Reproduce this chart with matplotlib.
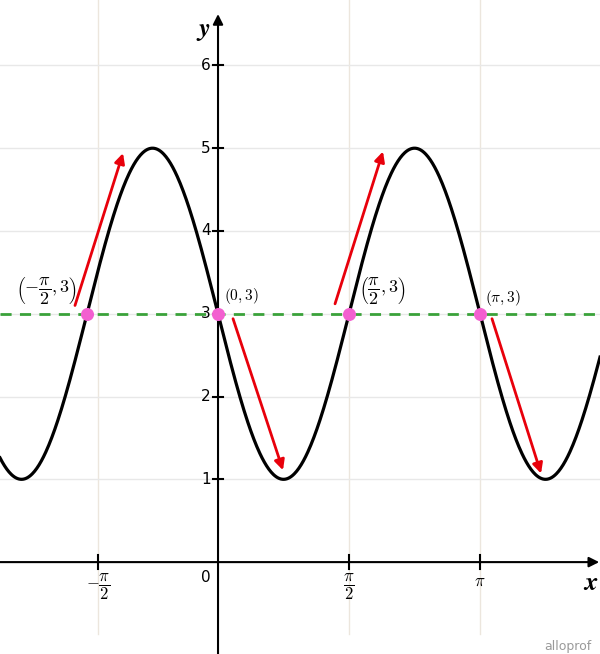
#Sinusoid y = 3 - 2 sin(2x) with tangent direction arrows
import numpy as np
import matplotlib.pyplot as plt

plt.rcParams['mathtext.fontset'] = 'cm'

#Curve parameters and view window
AMP = 2
MID = 3
FREQ = 2
X_MIN, X_MAX = -2.614, 4.58
Y_MIN, Y_MAX = -1.11, 6.79

#Points where the curve crosses the midline
point_x = [-np.pi / 2, 0, np.pi / 2, np.pi]
point_y = [3, 3, 3, 3]
point_labels = [r"$\left(-\dfrac{\pi}{2},3\right)$", r"$(0,3)$",
                r"$\left(\dfrac{\pi}{2},3\right)$", r"$(\pi,3)$"]
label_x = [-2.42, 0.07, 1.69, 3.20]
label_y = [3.28, 3.22, 3.28, 3.19]
label_size = [13, 11, 13, 11]

#Red arrows (start x, start y, end x, end y)
arrow_x0 = [-1.715, 0.18, 1.403, 3.285]
arrow_y0 = [3.10, 2.94, 3.12, 2.94]
arrow_x1 = [-1.139, 0.779, 1.978, 3.873]
arrow_y1 = [4.94, 1.11, 4.96, 1.07]

#Ticks (the -pi/2 tick sits a bit right of the true value in the original)
x_ticks = [-1.44, np.pi / 2, np.pi]
x_tick_labels = [r"$-\dfrac{\pi}{2}$", r"$\dfrac{\pi}{2}$", r"$\pi$"]
y_ticks = [1, 2, 3, 4, 5, 6]

fig = plt.figure(figsize=(6, 6.54), dpi=100)
ax = fig.add_axes([0, 0, 1, 1])
ax.set_xlim(X_MIN, X_MAX)
ax.set_ylim(Y_MIN, Y_MAX)
ax.axis("off")

#Grid
for xt in x_ticks:
    ax.plot([xt, xt], [-0.87, Y_MAX], color="#ece6dd", lw=1, zorder=0)
for yt in y_ticks:
    ax.plot([X_MIN, X_MAX], [yt, yt], color="#e8e8e8", lw=1, zorder=0)

#Axes with arrows
ax.annotate("", xy=(X_MAX - 0.01, 0), xytext=(X_MIN, 0),
            arrowprops=dict(arrowstyle="-|>", color="black", lw=1.5, mutation_scale=15,
                            shrinkA=0, shrinkB=0), zorder=3)
ax.annotate("", xy=(0, Y_MAX - 0.17), xytext=(0, Y_MIN),
            arrowprops=dict(arrowstyle="-|>", color="black", lw=1.5, mutation_scale=15,
                            shrinkA=0, shrinkB=0), zorder=3)

#Tick marks and labels
for xt, lab in zip(x_ticks, x_tick_labels):
    ax.plot([xt, xt], [-0.08, 0.08], color="black", lw=1.5, zorder=3)
    ax.text(xt, -0.12, lab, ha="center", va="top", fontsize=12)
for yt in y_ticks:
    ax.plot([-0.06, 0.06], [yt, yt], color="black", lw=1.5, zorder=3)
    ax.text(-0.09, yt, str(yt), ha="right", va="center", fontsize=11, family="DejaVu Sans")
ax.text(-0.09, -0.09, "0", ha="right", va="top", fontsize=11, family="DejaVu Sans")
ax.text(X_MAX - 0.02, -0.1, r"$\boldsymbol{x}$", ha="right", va="top", fontsize=19)
ax.text(-0.09, Y_MAX - 0.36, r"$\boldsymbol{y}$", ha="right", va="center", fontsize=19)

#Midline
ax.axhline(MID, color="#3aa23a", lw=2, linestyle=(0, (4, 3)), zorder=2)

#Curve
xs = np.linspace(X_MIN, X_MAX, 800)
ys = MID - AMP * np.sin(FREQ * xs)
ax.plot(xs, ys, color="black", lw=2.3, zorder=4)

#Arrows
for x0, y0, x1, y1 in zip(arrow_x0, arrow_y0, arrow_x1, arrow_y1):
    ax.annotate("", xy=(x1, y1), xytext=(x0, y0),
                arrowprops=dict(arrowstyle="-|>", color="#e8000b", lw=2, mutation_scale=15,
                                shrinkA=0, shrinkB=0), zorder=5)

#Points and labels
ax.scatter(point_x, point_y, s=70, color="#f35fd0", zorder=6)
for lx, ly, lab, fs in zip(label_x, label_y, point_labels, label_size):
    ax.text(lx, ly, lab, ha="left", va="center", fontsize=fs, zorder=7)

ax.text(X_MAX - 0.1, -1.02, "alloprof", ha="right", va="center", fontsize=9, color="#9a9a9a")

fig.savefig("out.png", dpi=100)
